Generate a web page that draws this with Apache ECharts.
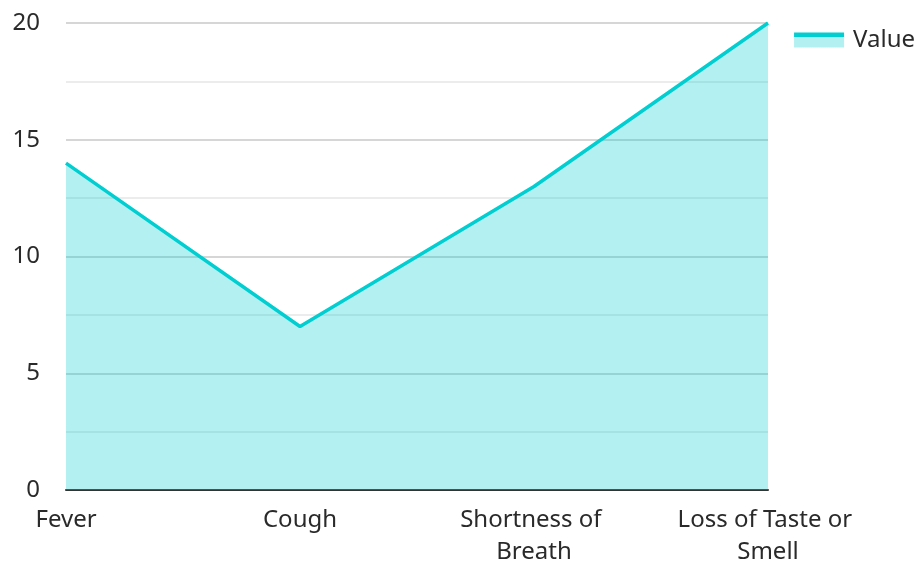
<!DOCTYPE html>
<html>
<head>
<meta charset="utf-8">
<script src="https://cdn.jsdelivr.net/npm/echarts@6/dist/echarts.min.js"></script>
<style>
  html, body { margin: 0; padding: 0; background: #fff; }
  #chart { width: 918px; height: 562px; }
</style>
</head>
<body>
<div id="chart"></div>
<script>
  var categories = ['Fever', 'Cough', 'Shortness of Breath', 'Loss of Taste or Smell'];
  var values = [14, 7, 13, 20];
  var seriesName = 'Value';

  var myChart = echarts.init(document.getElementById('chart'));
  var option = {
    textStyle: { fontFamily: 'Noto Sans' },
    color: ['#00CED1'],
    legend: {
      data: [seriesName],
      right: -2,
      top: 23,
      icon: 'rect',
      itemWidth: 50,
      itemHeight: 15,
      itemGap: 8,
      itemStyle: {
        color: {
          type: 'linear', x: 0, y: 0, x2: 0, y2: 1,
          colorStops: [
            { offset: 0, color: '#00CED1' },
            { offset: 0.27, color: '#00CED1' },
            { offset: 0.27, color: '#b3f0f1' },
            { offset: 1, color: '#b3f0f1' }
          ]
        }
      },
      textStyle: { fontSize: 24, color: '#2a2a2a', fontFamily: 'Noto Sans', padding: [0, 0, 0, 4] }
    },
    grid: {
      left: 66,
      right: 150,
      top: 23,
      bottom: 72,
      containLabel: false,
      outerBoundsMode: 'none'
    },
    xAxis: {
      type: 'category',
      boundaryGap: false,
      data: categories,
      axisLine: { lineStyle: { color: '#333', width: 2 } },
      axisTick: { show: false },
      axisLabel: {
        fontSize: 24,
        color: '#2a2a2a',
        margin: 14,
        lineHeight: 32,
        width: 200,
        overflow: 'break',
        interval: 0,
        hideOverlap: false
      }
    },
    yAxis: {
      type: 'value',
      min: 0,
      max: 20,
      interval: 5,
      axisLine: { show: false },
      axisTick: { show: false },
      axisLabel: { fontSize: 24, color: '#2a2a2a', margin: 26 },
      splitLine: { lineStyle: { color: '#c8c8c8', width: 1.5 } },
      minorTick: { show: false, splitNumber: 2 },
      minorSplitLine: { show: true, lineStyle: { color: '#e6e6e6', width: 1.5 } }
    },
    series: [
      {
        name: seriesName,
        type: 'line',
        data: values,
        showSymbol: false,
        lineStyle: { width: 3.5, color: '#00CED1' },
        areaStyle: { color: '#00CED1', opacity: 0.3 }
      }
    ]
  };
  myChart.setOption(option);
</script>
</body>
</html>
